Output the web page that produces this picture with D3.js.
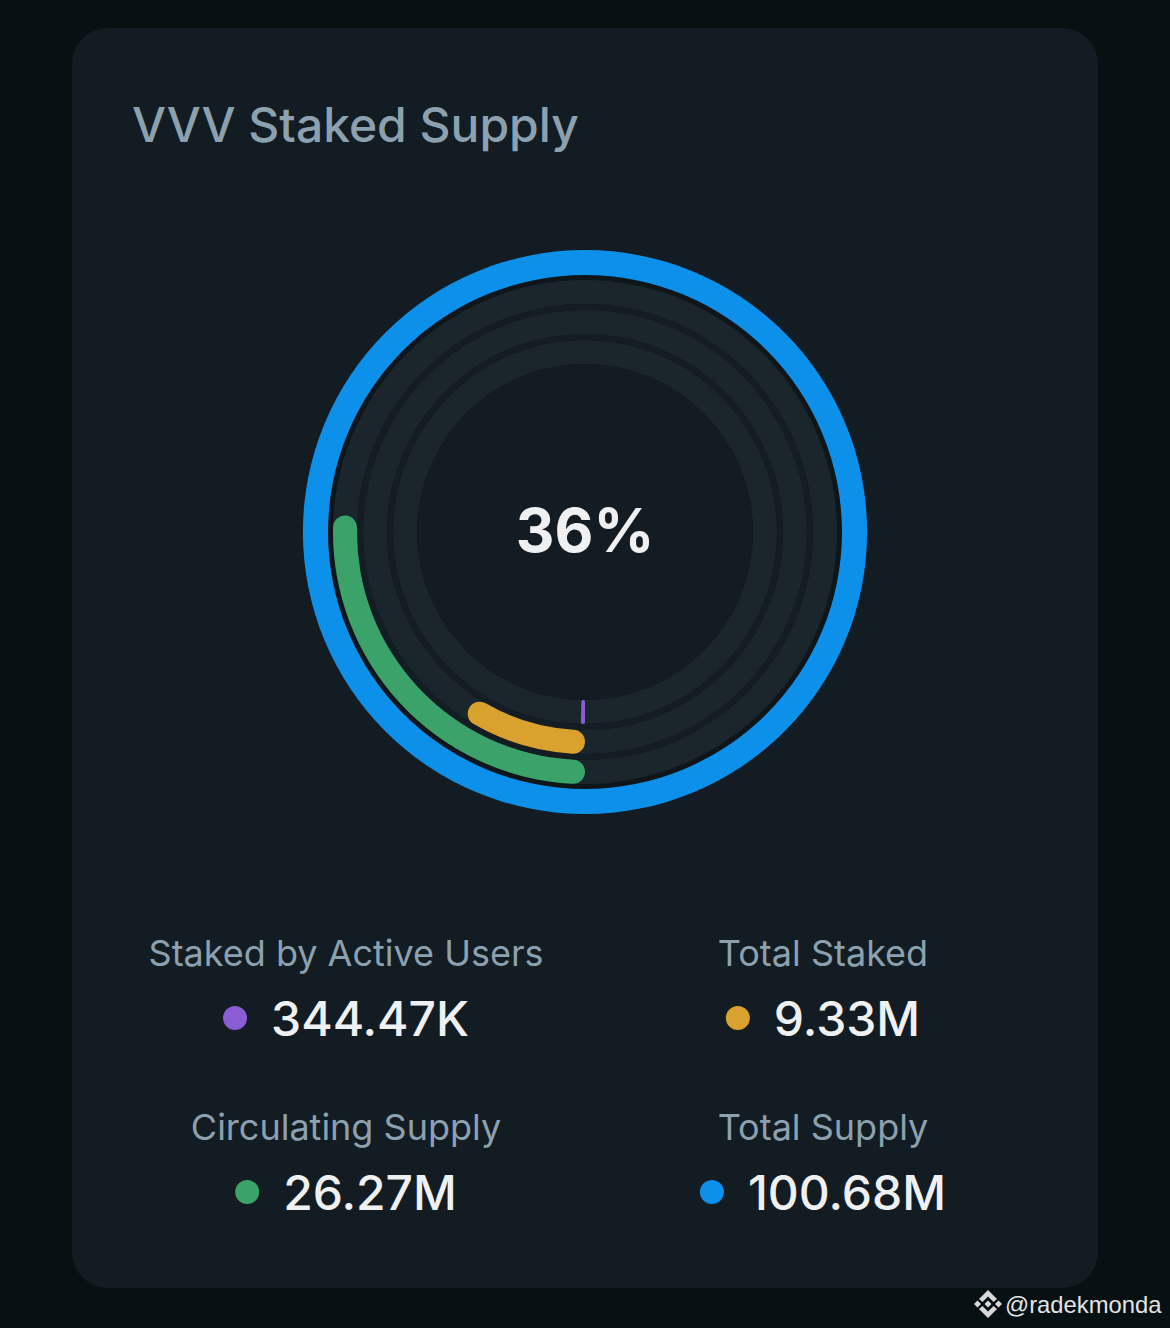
<!DOCTYPE html>
<html>
<head>
<meta charset="utf-8">
<script src="https://cdn.jsdelivr.net/npm/d3@7"></script>
<style>
  html, body { margin: 0; padding: 0; background: #071013; }
  svg { display: block; }
  text { font-family: Inter, "Noto Sans", sans-serif; }
</style>
</head>
<body>
<svg id="chart" width="1170" height="1328"></svg>
<script>
// values in millions, as printed under the rings
const labels = ["Staked by Active Users", "Total Staked", "Circulating Supply", "Total Supply"];
const values = [0.34447, 9.33, 26.27, 100.68];
const valueLabels = ["344.47K", "9.33M", "26.27M", "100.68M"];
const colors = ["#8a5cd6", "#d9a22f", "#3ba36a", "#0d90ea"];
const centerLabel = "36%";
const title = "VVV Staked Supply";
const watermark = "@radekmonda";

const svg = d3.select("#chart");
const cx = 585, cy = 532;

svg.append("rect").attr("x", 72).attr("y", 28).attr("width", 1026).attr("height", 1260)
  .attr("rx", 36).attr("fill", "#131c22");

svg.append("text").attr("x", 132).attr("y", 142)
  .attr("font-size", 48).attr("font-weight", 500).attr("fill", "#8ca1b0").text(title);

// -------------------------------------------------------------------------
// Rings
// -------------------------------------------------------------------------
const total = values[3];
const angle = d3.scaleLinear().domain([0, total]).range([Math.PI, 3 * Math.PI]);

// one band per series, innermost first
const rings = [
  { inner: 168, outer: 192 },
  { inner: 198, outer: 222 },
  { inner: 228, outer: 252 },
  { inner: 257, outer: 282 },
];

const g = svg.append("g").attr("transform", `translate(${cx},${cy})`);

// corner radius comes from the datum so the full blue ring stays square
const arc = d3.arc().cornerRadius((d) => d.corner || 0);

// tracks
g.append("circle").attr("r", 257).attr("fill", "#0e161b");
g.selectAll("path.track").data(rings.slice(0, 3)).join("path")
  .attr("class", "track")
  .attr("fill", "#1b262c")
  .attr("d", (d) => arc({ innerRadius: d.inner, outerRadius: d.outer, startAngle: 0, endAngle: 2 * Math.PI }));
g.selectAll("path.gap").data(rings.slice(0, 2)).join("path")
  .attr("class", "gap")
  .attr("fill", "#141d23")
  .attr("d", (d) => arc({ innerRadius: d.outer, outerRadius: d.outer + 6, startAngle: 0, endAngle: 2 * Math.PI }));
g.append("circle").attr("r", 168).attr("fill", "#131c22");

// value arcs
g.selectAll("path.value").data(values).join("path")
  .attr("class", "value")
  .attr("fill", (d, i) => colors[i])
  .attr("d", (d, i) => arc({
    innerRadius: rings[i].inner,
    outerRadius: rings[i].outer,
    startAngle: Math.PI,
    endAngle: angle(d),
    corner: i === 3 ? 0 : 12,
  }));

g.append("text").attr("text-anchor", "middle").attr("y", 20)
  .attr("font-size", 60).attr("font-weight", 700).attr("fill", "#eff0f1").text(centerLabel);

// -------------------------------------------------------------------------
// Legend
// -------------------------------------------------------------------------
const colX = [346, 823];
const rowY = [966, 1140];

const items = svg.append("g").selectAll("g").data(labels).join("g")
  .attr("transform", (d, i) => `translate(${colX[i % 2]},${rowY[Math.floor(i / 2)]})`);

items.append("text").attr("text-anchor", "middle")
  .attr("font-size", 36).attr("fill", "#8ca1b0").text((d) => d);

// dot and value are centred together as one group
items.each(function (d, i) {
  const item = d3.select(this);
  const val = item.append("text").attr("y", 70)
    .attr("font-size", 48).attr("font-weight", 500).attr("fill", "#eff0f1").text(valueLabels[i]);
  const w = val.node().getComputedTextLength();
  const left = -(24 + 24 + w) / 2;
  item.append("circle").attr("cx", left + 12).attr("cy", 52).attr("r", 12).attr("fill", colors[i]);
  val.attr("x", left + 48);
});

// -------------------------------------------------------------------------
// Watermark
// -------------------------------------------------------------------------
const mark = svg.append("g").attr("transform", "translate(988,1304)").attr("fill", "#d8d8d8");
mark.append("path").attr("d", "M0,-14 L9,-5 L5.5,-2 L0,-7.5 L-5.5,-2 L-9,-5 Z");
mark.append("path").attr("d", "M0,14 L9,5 L5.5,2 L0,7.5 L-5.5,2 L-9,5 Z");
mark.append("path").attr("d", "M0,-3.5 L3.5,0 L0,3.5 L-3.5,0 Z");
mark.append("path").attr("d", "M-10.5,-3.5 L-7,0 L-10.5,3.5 L-14,0 Z");
mark.append("path").attr("d", "M10.5,-3.5 L14,0 L10.5,3.5 L7,0 Z");

svg.append("text").attr("x", 1005).attr("y", 1313)
  .style("font-family", '"Liberation Sans", Arial, sans-serif')
  .attr("font-size", 23.8).attr("fill", "#e4e4e4").text(watermark);
</script>
</body>
</html>
